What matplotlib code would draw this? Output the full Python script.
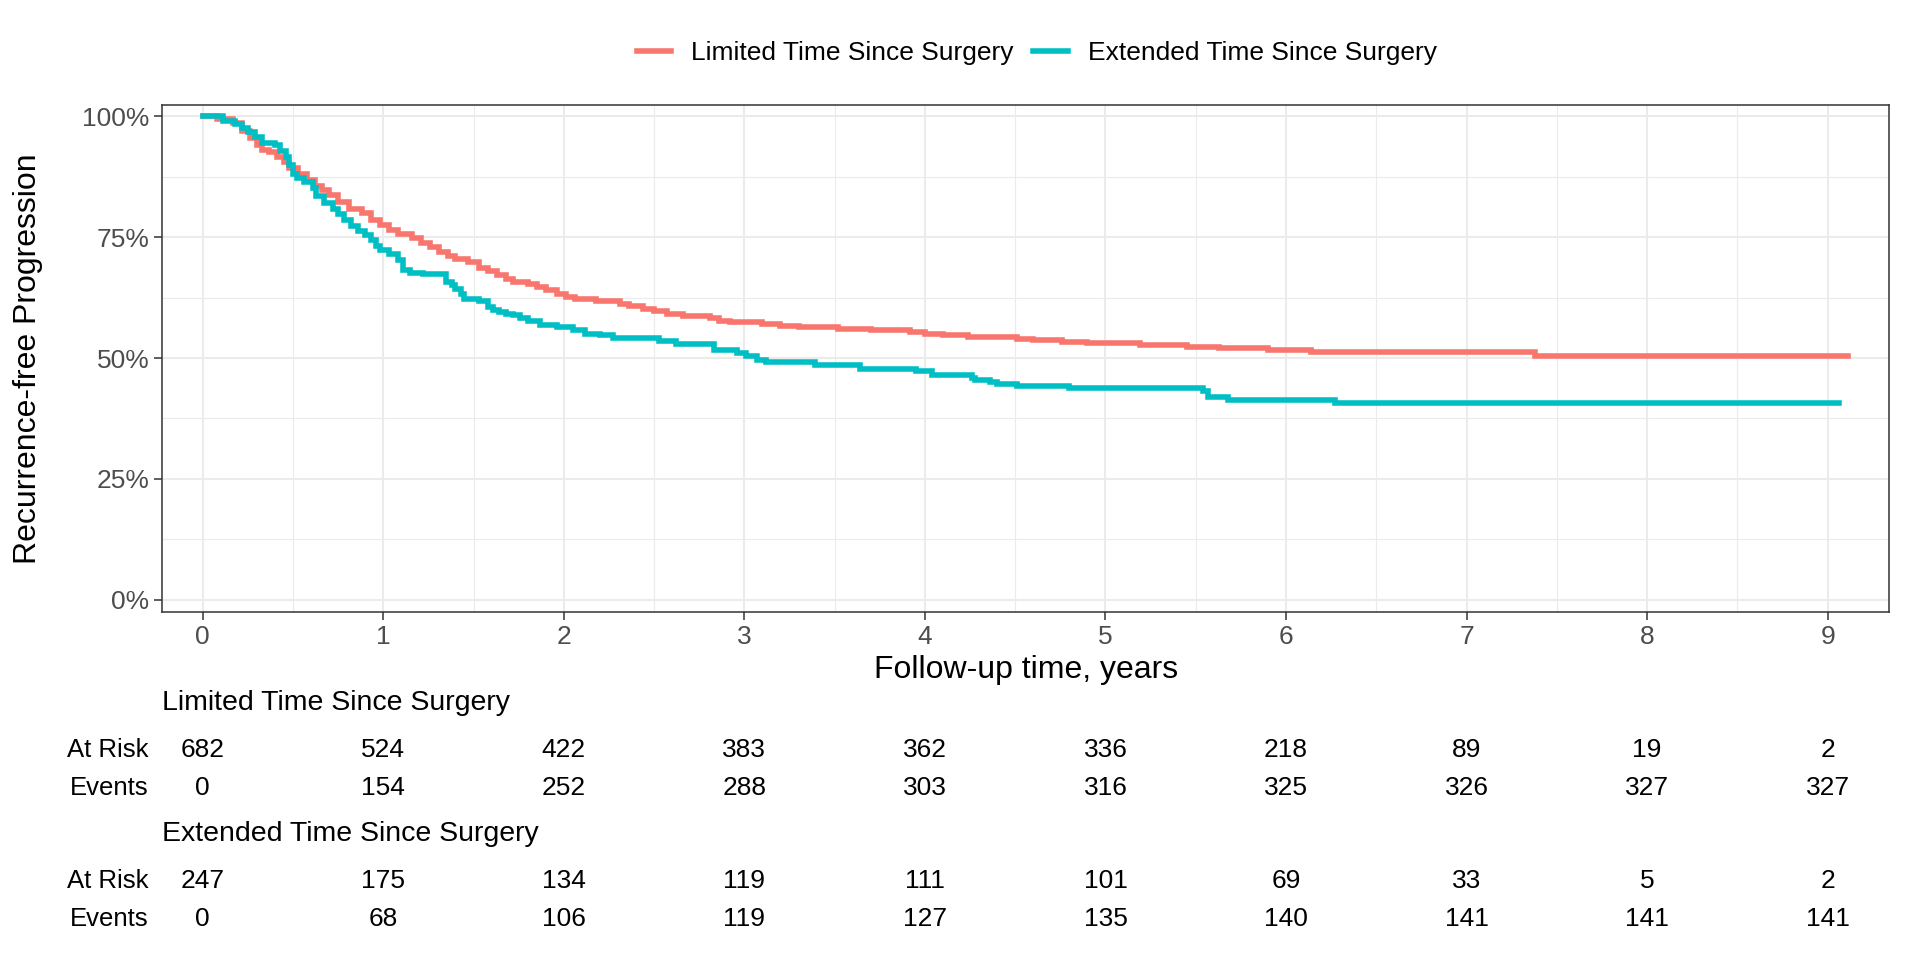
import numpy as np
import matplotlib.pyplot as plt
from matplotlib.transforms import blended_transform_factory

plt.rcParams['font.family'] = ['Liberation Sans', 'DejaVu Sans']

# Kaplan-Meier step data (years, survival %)
limited_t = [0, 0.08, 0.17, 0.22, 0.26, 0.30, 0.33, 0.37, 0.41, 0.45, 0.48, 0.53,
             0.58, 0.62, 0.66, 0.70, 0.75, 0.81, 0.88, 0.93, 0.98, 1.03, 1.08, 1.16,
             1.21, 1.26, 1.31, 1.36, 1.40, 1.47, 1.53, 1.58, 1.63, 1.68, 1.72, 1.80,
             1.85, 1.90, 1.96, 2.01, 2.06, 2.18, 2.31, 2.36, 2.44, 2.50, 2.57, 2.66,
             2.81, 2.86, 2.92, 3.10, 3.20, 3.30, 3.52, 3.70, 3.92, 4.00, 4.10, 4.24,
             4.51, 4.60, 4.76, 4.90, 5.19, 5.45, 5.63, 5.90, 6.14, 7.38, 9.11]
limited_s = [100, 99.4, 98.5, 97.0, 95.4, 94.0, 93.0, 92.5, 91.6, 90.5, 89.2, 88.0,
             86.7, 85.6, 84.7, 83.6, 82.3, 80.9, 80.0, 78.6, 77.4, 76.4, 75.6, 74.9,
             73.8, 72.9, 72.0, 71.0, 70.4, 69.8, 68.6, 67.9, 67.2, 66.4, 65.7, 65.3,
             64.6, 64.0, 63.2, 62.6, 62.1, 61.8, 61.2, 60.7, 60.2, 59.7, 59.1, 58.7,
             58.2, 57.7, 57.4, 57.0, 56.7, 56.5, 56.0, 55.8, 55.4, 54.9, 54.7, 54.3,
             54.0, 53.7, 53.4, 53.1, 52.7, 52.3, 52.0, 51.7, 51.3, 50.5, 50.5]

extended_t = [0, 0.11, 0.18, 0.22, 0.25, 0.29, 0.33, 0.40, 0.43, 0.46, 0.48, 0.50,
              0.52, 0.56, 0.61, 0.63, 0.67, 0.72, 0.75, 0.78, 0.82, 0.86, 0.90, 0.93,
              0.96, 0.98, 1.03, 1.08, 1.11, 1.15, 1.22, 1.35, 1.38, 1.40, 1.43, 1.45,
              1.53, 1.58, 1.61, 1.64, 1.68, 1.72, 1.76, 1.80, 1.87, 1.96, 2.05, 2.12,
              2.20, 2.27, 2.53, 2.62, 2.83, 2.96, 3.01, 3.07, 3.12, 3.39, 3.64, 3.95,
              4.04, 4.26, 4.28, 4.36, 4.40, 4.51, 4.80, 5.54, 5.57, 5.68, 6.27, 9.06]
extended_s = [100, 99.0, 98.3, 97.5, 96.8, 95.6, 94.5, 94.0, 92.8, 91.5, 89.9, 88.0,
              87.3, 86.4, 85.2, 83.5, 82.0, 80.8, 79.8, 78.5, 77.2, 76.2, 75.5, 74.3,
              73.2, 72.4, 71.6, 70.3, 68.1, 67.6, 67.4, 65.7, 65.0, 64.3, 63.2, 62.3,
              61.7, 60.5, 60.0, 59.5, 59.1, 58.8, 58.2, 57.6, 56.8, 56.4, 55.7, 55.0,
              54.7, 54.1, 53.5, 52.9, 51.6, 51.1, 50.5, 49.6, 49.1, 48.5, 47.8, 47.3,
              46.4, 45.9, 45.5, 45.1, 44.6, 44.3, 43.8, 43.2, 42.0, 41.4, 40.7, 40.7]

groups = ['Limited Time Since Surgery', 'Extended Time Since Surgery']
colors = ['#F8766D', '#00BFC4']

# risk table
table_times = list(range(10))
limited_at_risk = [682, 524, 422, 383, 362, 336, 218, 89, 19, 2]
limited_events = [0, 154, 252, 288, 303, 316, 325, 326, 327, 327]
extended_at_risk = [247, 175, 134, 119, 111, 101, 69, 33, 5, 2]
extended_events = [0, 68, 106, 119, 127, 135, 140, 141, 141, 141]

fig = plt.figure(figsize=(19.2, 9.6), dpi=100)
ax = fig.add_axes([0.0844, 0.3625, 0.8995, 0.5281])

ax.step(limited_t, np.array(limited_s) / 100, where='post', color=colors[0],
        lw=4, label=groups[0], solid_joinstyle='miter')
ax.step(extended_t, np.array(extended_s) / 100, where='post', color=colors[1],
        lw=4, label=groups[1], solid_joinstyle='miter')

ax.set_xlim(-0.225, 9.34)
ax.set_ylim(-0.025, 1.023)
ax.set_xticks(range(10))
ax.set_xticks(np.arange(0.5, 9, 1), minor=True)
ax.set_yticks([0, 0.25, 0.5, 0.75, 1.0])
ax.set_yticks([0.125, 0.375, 0.625, 0.875], minor=True)
ax.set_yticklabels(['0%', '25%', '50%', '75%', '100%'])

ax.grid(which='major', color='#EBEBEB', lw=1.5)
ax.grid(which='minor', color='#EBEBEB', lw=0.8)
ax.set_axisbelow(True)
for s in ax.spines.values():
    s.set_color('#333333')
    s.set_linewidth(1.1)
ax.tick_params(which='major', length=6, width=1.1, color='#333333',
               labelsize=19, labelcolor='#4D4D4D', pad=3)
ax.tick_params(which='minor', length=0)

ax.set_xlabel('Follow-up time, years', fontsize=23, labelpad=5)
ax.set_ylabel('Recurrence-free Progression', fontsize=23, labelpad=28)

fig.legend(loc='center', bbox_to_anchor=(0.54, 0.945), ncol=2, frameon=False,
           fontsize=19, handlelength=1.3, handletextpad=0.75, columnspacing=0.75)

# number-at-risk table under the plot
tr = blended_transform_factory(ax.transData, fig.transFigure)
rows = [
    (groups[0], limited_at_risk, limited_events, 0.2678, 0.2189, 0.1793),
    (groups[1], extended_at_risk, extended_events, 0.1309, 0.0824, 0.0428),
]
for name, risk, events, y_title, y_risk, y_events in rows:
    fig.text(0.0844, y_title, name, fontsize=20.5, ha='left', va='center')
    fig.text(0.0776, y_risk, 'At Risk', fontsize=18.5, ha='right', va='center')
    fig.text(0.0776, y_events, 'Events', fontsize=18.5, ha='right', va='center')
    for t, r, e in zip(table_times, risk, events):
        ax.text(t, y_risk, str(r), transform=tr, fontsize=19, ha='center', va='center')
        ax.text(t, y_events, str(e), transform=tr, fontsize=19, ha='center', va='center')

fig.savefig('out.png', dpi=100)
